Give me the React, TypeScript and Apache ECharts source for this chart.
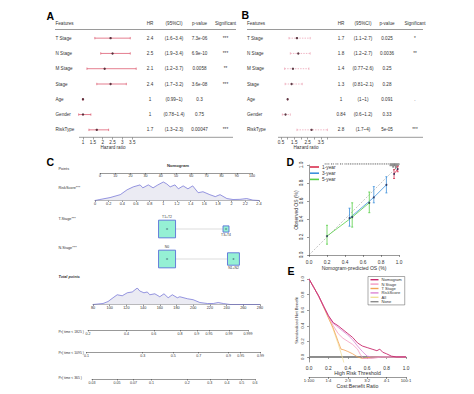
import React, { useEffect, useRef } from "react";
import * as echarts from "echarts";

const FONT = "'Liberation Sans', Arial, Helvetica, sans-serif";
const INK = "#333";

// ---------------- Panel A: univariate Cox ----------------
const featureNames = ["T Stage", "N Stage", "M Stage", "Stage", "Age", "Gender", "RiskType"];
const uniHR = [2.4, 2.5, 2.1, 2.4, 1, 1, 1.7];
const uniLow = [1.6, 1.9, 1.2, 1.7, 0.99, 0.78, 1.3];
const uniHigh = [3.4, 3.4, 3.7, 3.2, 1, 1.4, 2.3];
const uniHRText = ["2.4", "2.5", "2.1", "2.4", "1", "1", "1.7"];
const uniCIText = ["(1.6~3.4)", "(1.9~3.4)", "(1.2~3.7)", "(1.7~3.2)", "(0.99~1)", "(0.78~1.4)", "(1.3~2.3)"];
const uniPText = ["7.3e-06", "6.9e-10", "0.0058", "3.6e-08", "0.3", "0.75", "0.00047"];
const uniSig = ["***", "***", "**", "***", "", "", "***"];
const uniTicks = [1, 1.5, 2, 2.5, 3, 3.5];
const uniTickLabels = [1, 1.5, 2, 2.5, 3, 3.5];

// ---------------- Panel B: multivariate Cox ----------------
const multiHR = [1.7, 1.8, 1.4, 1.3, 1, 0.84, 2.8];
const multiLow = [1.1, 1.2, 0.77, 0.81, 1, 0.6, 1.7];
const multiHigh = [2.7, 2.7, 2.6, 2.1, 1, 1.2, 4];
const multiHRText = ["1.7", "1.8", "1.4", "1.3", "1", "0.84", "2.8"];
const multiCIText = ["(1.1~2.7)", "(1.2~2.7)", "(0.77~2.6)", "(0.81~2.1)", "(1~1)", "(0.6~1.2)", "(1.7~4)"];
const multiPText = ["0.025", "0.0036", "0.25", "0.28", "0.091", "0.33", "5e-05"];
const multiSig = ["*", "**", "", "", ".", "", "***"];
const multiTicks = [0.5, 1, 1.5, 2, 2.5, 3, 3.5, 4];
const multiTickLabels = [0.5, 1.5, 2.5, 3.5];

const tableHeader = ["Features", "HR", "(95%CI)", "p-value", "Significant"];

// ---------------- Panel C: nomogram ----------------
const riskScoreX = [0, 0.07, 0.22, 0.37, 0.47, 0.56, 0.66, 0.7, 0.78, 0.85, 0.92, 1.0, 1.05, 1.1, 1.17, 1.22, 1.29, 1.36, 1.43, 1.51, 1.58, 1.68, 1.76, 1.83, 1.93, 2.02, 2.12, 2.22, 2.31, 2.4];
const riskScoreDens = [0, 0.05, 0.15, 0.3, 0.55, 0.7, 0.8, 0.65, 0.8, 0.65, 0.8, 0.95, 0.85, 0.7, 0.8, 0.6, 0.75, 0.6, 0.75, 0.4, 0.45, 0.3, 0.2, 0.3, 0.1, 0.05, 0.06, 0.1, 0.02, 0];
const totalX = [80, 92, 98, 104, 109, 115, 121, 127, 133, 136, 141, 145, 148, 154, 160, 165, 170, 175, 181, 184, 193, 200, 208, 217, 224, 230, 236, 244, 280];
const totalDens = [0, 0.06, 0.18, 0.41, 0.59, 0.53, 0.71, 0.76, 1.0, 0.82, 0.71, 0.76, 0.59, 0.65, 0.47, 0.65, 0.41, 0.59, 0.41, 0.47, 0.35, 0.29, 0.12, 0.06, 0.06, 0.12, 0.06, 0, 0];
const tStageLevels = ["T1+T2", "T3+T4"];
const tStagePoints = [44.1, 82.9];
const tStageFreq = [0.89, 0.11];
const nStageLevels = ["N0", "N1+N2"];
const nStagePoints = [44.1, 87.8];
const nStageFreq = [0.67, 0.33];
const pr1825 = [0.2, 0.4, 0.6, 0.8, 0.9, 0.95, 0.99, 0.999];
const pr1095 = [0.1, 0.3, 0.5, 0.7, 0.9, 0.95, 0.99];
const pr365 = [0.03, 0.05, 0.07, 0.1, 0.2, 0.3, 0.4, 0.5, 0.6];
const nomoRowLabels = ["Points", "RiskScore***", "T.Stage***", "N.Stage***", "Total points", "Pr( time < 1825 )", "Pr( time < 1095 )", "Pr( time < 365 )"];

// ---------------- Panel D: calibration ----------------
const cal1Pred = [0.945, 0.985];
const cal1Obs = [0.9, 0.955];
const cal1Lo = [0.85, 0.925];
const cal1Hi = [0.95, 0.985];
const cal3Pred = [0.45, 0.72, 0.86];
const cal3Obs = [0.41, 0.64, 0.78];
const cal3Lo = [0.32, 0.58, 0.69];
const cal3Hi = [0.52, 0.76, 0.87];
const cal5Pred = [0.2, 0.48, 0.67];
const cal5Obs = [0.21, 0.42, 0.58];
const cal5Lo = [0.12, 0.31, 0.47];
const cal5Hi = [0.33, 0.58, 0.7];
const rugPred = [0.18, 0.2, 0.22, 0.25, 0.27, 0.3, 0.32, 0.35, 0.37, 0.4, 0.42, 0.44, 0.46, 0.48, 0.5, 0.52, 0.54, 0.56, 0.58, 0.6, 0.62, 0.64, 0.66, 0.68, 0.7, 0.72, 0.74, 0.76, 0.78, 0.8, 0.82, 0.84, 0.86, 0.88, 0.9, 0.91, 0.92, 0.93, 0.94, 0.95, 0.96, 0.97, 0.98, 0.99, 1.0];
const rugCount = [1, 1, 1, 1, 1, 1, 1, 1, 1, 1, 1, 1, 1, 1, 1, 1, 1, 1, 1, 1, 1, 1, 1, 1, 1, 1, 1, 1, 1, 1, 1, 1, 1, 1, 2, 2, 2, 3, 3, 2, 4, 3, 2, 2, 1];
const calTicks = [0, 0.2, 0.4, 0.6, 0.8, 1.0];

// ---------------- Panel E: decision curve ----------------
const dcaNomogram = [[0, 1], [0.05, 0.89], [0.1, 0.78], [0.15, 0.65], [0.2, 0.53], [0.25, 0.44], [0.3, 0.4], [0.35, 0.35], [0.4, 0.3], [0.45, 0.25], [0.5, 0.18], [0.55, 0.14], [0.6, 0.12], [0.65, 0.1], [0.7, 0.08], [0.73, 0.1], [0.76, 0.06], [0.8, 0.04], [0.85, 0.01], [0.9, 0], [1, 0]];
const dcaNStage = [[0, 1], [0.1, 0.78], [0.2, 0.52], [0.25, 0.4], [0.3, 0.3], [0.35, 0.24], [0.4, 0.2], [0.45, 0.16], [0.5, 0.1], [0.53, 0.03], [0.56, -0.02], [0.65, -0.02], [0.7, -0.01], [0.75, 0], [1, 0]];
const dcaTStage = [[0, 1], [0.1, 0.78], [0.2, 0.5], [0.25, 0.37], [0.3, 0.2], [0.33, 0.1], [0.36, 0.09], [0.4, 0.07], [0.45, 0.04], [0.5, 0.0], [0.55, -0.02], [0.6, -0.01], [0.65, 0], [1, 0]];
const dcaRiskScore = [[0, 1], [0.1, 0.78], [0.2, 0.53], [0.25, 0.43], [0.3, 0.38], [0.35, 0.33], [0.4, 0.28], [0.45, 0.22], [0.5, 0.14], [0.55, 0.07], [0.6, 0.01], [0.65, 0], [1, 0]];
const dcaAll = [[0, 1], [0.05, 0.9], [0.1, 0.78], [0.15, 0.66], [0.2, 0.51], [0.25, 0.35], [0.3, 0.17], [0.33, 0.05], [0.35, -0.03], [0.37, -0.12]];
const dcaNone = [[0, 0], [1, 0]];
const dcaNames = ["Nomogram", "N Stage", "T Stage", "RiskScore", "All", "None"];
const thresholdTicks = [0, 0.2, 0.4, 0.6, 0.8, 1.0];
const costBenefit = ["1:100", "1:4", "2:3", "3:2", "4:1", "100:1"];

type Ctx = { grid: any[]; xAxis: any[]; yAxis: any[]; series: any[]; graphic: any[]; legend: any[] };

function addGrid(c: Ctx, g: any, x: any, y: any) {
  const i = c.grid.length;
  c.grid.push({ outerBoundsMode: "none", containLabel: false, ...g });
  c.xAxis.push({ gridIndex: i, ...x });
  c.yAxis.push({ gridIndex: i, ...y });
  return i;
}

function text(c: Ctx, str: string, x: number, y: number, o: any = {}) {
  const al = o.align || "left";
  c.graphic.push({
    type: "text", x, y, silent: true, z: 10,
    style: {
      text: str, fill: INK, fontSize: 4.6, fontFamily: FONT,
      verticalAlign: "middle", textVerticalAlign: "middle",
      ...o, align: al, textAlign: al,
    },
  });
}

function hline(c: Ctx, x1: number, x2: number, y: number, color = "#555", w = 0.6) {
  c.graphic.push({ type: "line", silent: true, shape: { x1, y1: y, x2, y2: y }, style: { stroke: color, lineWidth: w } });
}

const axisLineStyle = { color: "#333", width: 0.5 };
const ROW_TOP = 30.5;
const ROW_H = 107;

function forestPanel(c: Ctx, o: any) {
  const catAxis = (data: string[], align: string) => ({
    type: "category", inverse: true, data,
    axisLine: { show: false }, axisTick: { show: false }, splitLine: { show: false },
    axisLabel: { interval: 0, align, margin: 0, fontSize: 4.6, color: INK, fontFamily: FONT },
  });
  const hiddenX = { type: "value", show: false, min: 0, max: 1 };
  addGrid(c, { left: o.featLeft, top: ROW_TOP, width: 1, height: ROW_H }, hiddenX, catAxis(featureNames, "left"));
  [o.hrText, o.ciText, o.pText, o.sig].forEach((col: string[], k: number) =>
    addGrid(c, { left: o.cols[k], top: ROW_TOP, width: 1, height: ROW_H }, hiddenX, catAxis(col, "center"))
  );
  const f = addGrid(
    c,
    { left: o.fLeft, top: ROW_TOP, width: o.fWidth, height: ROW_H },
    {
      type: "value", min: o.min, max: o.max,
      axisLine: { show: false }, splitLine: { show: false },
      axisTick: { show: true, customValues: o.ticks, length: 2, lineStyle: { color: "#444", width: 0.5 } },
      axisLabel: { customValues: o.tickLabels, fontSize: 4.6, margin: 2.2, color: INK, fontFamily: FONT, formatter: (v: number) => String(v) },
    },
    { type: "category", inverse: true, data: featureNames, show: false }
  );
  const lineStyle: any = { stroke: o.lineColor, lineWidth: 0.7 };
  if (o.dash) lineStyle.lineDash = [1.4, 1.2];
  c.series.push({
    type: "custom", xAxisIndex: f, yAxisIndex: f, clip: false, z: 2,
    encode: { x: [0, 1], y: 2 },
    data: o.lo.map((l: number, i: number) => [l, o.hi[i], i]),
    renderItem: (_p: any, api: any) => {
      const a = api.coord([api.value(0), api.value(2)]);
      const b = api.coord([api.value(1), api.value(2)]);
      const cap = { stroke: o.lineColor, lineWidth: 0.6 };
      return {
        type: "group",
        children: [
          { type: "line", shape: { x1: a[0], y1: a[1], x2: b[0], y2: b[1] }, style: lineStyle },
          { type: "line", shape: { x1: a[0], y1: a[1] - 1.2, x2: a[0], y2: a[1] + 1.2 }, style: cap },
          { type: "line", shape: { x1: b[0], y1: b[1] - 1.2, x2: b[0], y2: b[1] + 1.2 }, style: cap },
        ],
      };
    },
  });
  c.series.push({
    type: "scatter", xAxisIndex: f, yAxisIndex: f, symbol: "circle", symbolSize: 2.4, z: 3,
    itemStyle: { color: "#3b1420" },
    data: o.hr.map((v: number, i: number) => [v, i]),
  });
  text(c, tableHeader[0], o.featLeft, 23);
  tableHeader.slice(1).forEach((h, k) => text(c, h, o.cols[k], 23, { align: "center" }));
  hline(c, o.headLine[0], o.headLine[1], 29.5);
  hline(c, o.botLine[0], o.botLine[1], 137.3);
  text(c, "Hazard ratio", o.nameX, 147, { align: "center" });
}

function densityRow(c: Ctx, left: number, width: number, top: number, height: number, min: number, max: number, interval: number, xs: number[], ds: number[]) {
  const i = addGrid(
    c,
    { left, top, width, height },
    {
      type: "value", min, max, interval, splitLine: { show: false },
      axisLine: { lineStyle: axisLineStyle }, axisTick: { length: 1.5, lineStyle: axisLineStyle },
      axisLabel: { fontSize: 3.8, margin: 1.5, color: INK, fontFamily: FONT },
    },
    { type: "value", min: 0, max: 1, show: false }
  );
  c.series.push({
    type: "line", xAxisIndex: i, yAxisIndex: i, symbol: "none", z: 2,
    data: xs.map((x, k) => [x, ds[k]]),
    lineStyle: { color: "#6a6ad4", width: 0.7 },
    areaStyle: { color: "#ebebf3", opacity: 1 },
  });
}

const PLUS = "path://M-1,-0.18H1V0.18H-1Z M-0.18,-1H0.18V1H-0.18Z";

function boxRow(c: Ctx, top: number, pts: number[], freq: number[], names: string[]) {
  const i = addGrid(
    c,
    { left: 100, top, width: 152, height: 20 },
    { type: "value", min: 0, max: 100, show: false },
    { type: "value", min: -1, max: 1, show: false }
  );
  const maxF = Math.max(...freq);
  c.series.push({
    type: "line", xAxisIndex: i, yAxisIndex: i, symbol: "none", z: 1,
    data: pts.map((p) => [p, 0]),
    lineStyle: { color: "#b8b8b8", width: 0.5 },
  });
  c.series.push({
    type: "scatter", xAxisIndex: i, yAxisIndex: i, symbol: "rect", z: 2,
    itemStyle: { color: "#95f0d4", borderColor: "#5a72d8", borderWidth: 0.9, opacity: 1 },
    data: pts.map((p, k) => {
      const s = 17 * Math.sqrt(freq[k] / maxF);
      return {
        value: [p, 0],
        symbolSize: [s, s * 1.04],
        label: {
          show: true, position: k === 0 ? "top" : "bottom", distance: 0.8,
          formatter: names[k], fontSize: 3.4, color: INK, fontFamily: FONT,
        },
      };
    }),
  });
  c.series.push({
    type: "scatter", xAxisIndex: i, yAxisIndex: i, symbol: PLUS, symbolSize: 2.2, z: 3,
    itemStyle: { color: "#2a2a50" },
    data: pts.map((p) => [p, 0]),
  });
}

const cll = (p: number) => Math.log(-Math.log(1 - p));

function probRow(c: Ctx, left: number, width: number, top: number, probs: number[]) {
  const vals = probs.map(cll);
  addGrid(
    c,
    { left, top, width, height: 1 },
    {
      type: "value", min: vals[0], max: vals[vals.length - 1], splitLine: { show: false },
      axisLine: { lineStyle: axisLineStyle },
      axisTick: { customValues: vals, length: 1.5, lineStyle: axisLineStyle },
      axisLabel: {
        customValues: vals, fontSize: 3.6, margin: 1.5, color: INK, fontFamily: FONT,
        formatter: (v: number) => {
          let best = 0;
          vals.forEach((w, k) => { if (Math.abs(w - v) < Math.abs(vals[best] - v)) best = k; });
          return String(probs[best]);
        },
      },
    },
    { type: "value", show: false }
  );
}

function calGroup(c: Ctx, gi: number, name: string, color: string, pred: number[], obs: number[], lo: number[], hi: number[]) {
  c.series.push({
    name, type: "line", xAxisIndex: gi, yAxisIndex: gi, symbol: "none", color, z: 3,
    data: pred.map((x, k) => [x, obs[k]]),
    lineStyle: { color, width: 0.8 },
  });
  c.series.push({
    name: name + " CI", type: "custom", xAxisIndex: gi, yAxisIndex: gi, clip: false, z: 4,
    encode: { x: 0, y: [1, 2] },
    data: pred.map((x, k) => [x, lo[k], hi[k]]),
    renderItem: (_p: any, api: any) => {
      const a = api.coord([api.value(0), api.value(1)]);
      const b = api.coord([api.value(0), api.value(2)]);
      const st = { stroke: color, lineWidth: 0.8 };
      return {
        type: "group",
        children: [
          { type: "line", shape: { x1: a[0], y1: a[1], x2: b[0], y2: b[1] }, style: st },
          { type: "line", shape: { x1: a[0] - 1, y1: a[1], x2: a[0] + 1, y2: a[1] }, style: st },
          { type: "line", shape: { x1: b[0] - 1, y1: b[1], x2: b[0] + 1, y2: b[1] }, style: st },
        ],
      };
    },
  });
  c.series.push({
    name: name + " pts", type: "scatter", xAxisIndex: gi, yAxisIndex: gi, symbol: "circle", symbolSize: 2, z: 5,
    itemStyle: { color: "#1d2450" },
    data: pred.map((x, k) => [x, obs[k]]),
  });
}

function buildOption() {
  const c: Ctx = { grid: [], xAxis: [], yAxis: [], series: [], graphic: [], legend: [] };

  const letter = (s: string, x: number, y: number) => text(c, s, x, y, { fontSize: 10.5, fontWeight: "bold", fill: "#000" });
  letter("A", 46.5, 16);
  letter("B", 241.5, 15);
  letter("C", 46.5, 162);
  letter("D", 286.5, 162);
  letter("E", 287.5, 271);

  forestPanel(c, {
    featLeft: 55.5, cols: [150, 174, 199.5, 225.5],
    fLeft: 73.15, fWidth: 68.95, min: 0.5, max: 4,
    ticks: uniTicks, tickLabels: uniTickLabels,
    hr: uniHR, lo: uniLow, hi: uniHigh,
    hrText: uniHRText, ciText: uniCIText, pText: uniPText, sig: uniSig,
    lineColor: "#d9465e", dash: false,
    headLine: [55, 236], botLine: [79, 233], nameX: 113,
  });
  forestPanel(c, {
    featLeft: 247, cols: [341, 363, 387, 415],
    fLeft: 281, fWidth: 46.5, min: 0.5, max: 4,
    ticks: multiTicks, tickLabels: multiTickLabels,
    hr: multiHR, lo: multiLow, hi: multiHigh,
    hrText: multiHRText, ciText: multiCIText, pText: multiPText, sig: multiSig,
    lineColor: "#e995aa", dash: true,
    headLine: [247, 423], botLine: [278, 423], nameX: 306,
  });

  text(c, "Nomogram", 178, 165, { align: "center", fontSize: 4.2, fontWeight: "bold" });
  addGrid(
    c,
    { left: 100, top: 172, width: 152, height: 1 },
    {
      type: "value", min: 0, max: 100, interval: 10, splitLine: { show: false },
      axisLine: { lineStyle: axisLineStyle }, axisTick: { length: 1.5, lineStyle: axisLineStyle },
      axisLabel: { fontSize: 3.6, margin: 1.3, color: INK, fontFamily: FONT },
    },
    { type: "value", show: false }
  );
  densityRow(c, 95, 164, 181, 19.5, 0, 2.4, 0.2, riskScoreX, riskScoreDens);
  boxRow(c, 219, tStagePoints, tStageFreq, tStageLevels);
  boxRow(c, 249, nStagePoints, nStageFreq, nStageLevels);
  densityRow(c, 93, 167, 288, 16.5, 80, 280, 20, totalX, totalDens);
  probRow(c, 88, 160, 329, pr1825);
  probRow(c, 86.5, 174, 351, pr1095);
  probRow(c, 92, 163, 378, pr365);
  const rowY = [169, 188, 219, 248, 276.5, 331.5, 352.5, 378];
  nomoRowLabels.forEach((s, k) =>
    text(c, s, 58.5, rowY[k], { fontSize: k >= 5 ? 3.4 : 3.8, fontStyle: k === 4 ? "italic" : "normal", fontWeight: k === 4 ? "bold" : "normal" })
  );

  const lab = { fontSize: 4.8, color: INK, fontFamily: FONT };
  const d = addGrid(
    c,
    { left: 309, top: 165, width: 90, height: 90 },
    {
      type: "value", min: 0, max: 1, offset: 3, splitLine: { show: false },
      axisLine: { lineStyle: axisLineStyle },
      axisTick: { customValues: calTicks, length: 2, lineStyle: axisLineStyle },
      axisLabel: { ...lab, customValues: calTicks, margin: 1.8, formatter: (v: number) => v.toFixed(1) },
      name: "Nomogram-predicted OS (%)", nameLocation: "middle", nameGap: 7.5, nameMoveOverlap: false,
      nameTextStyle: { fontSize: 5, color: INK, fontFamily: FONT },
    },
    {
      type: "value", min: 0, max: 1, offset: 3, splitLine: { show: false },
      axisLine: { lineStyle: axisLineStyle },
      axisTick: { customValues: calTicks, length: 2, lineStyle: axisLineStyle },
      axisLabel: { ...lab, customValues: calTicks, margin: 1.8, rotate: 90, formatter: (v: number) => v.toFixed(1) },
      name: "Observed OS (%)", nameLocation: "middle", nameGap: 8, nameMoveOverlap: false,
      nameTextStyle: { fontSize: 5, color: INK, fontFamily: FONT },
    }
  );
  c.series.push({
    name: "ideal", type: "line", xAxisIndex: d, yAxisIndex: d, symbol: "none", clip: false, z: 1,
    data: [[0, 0], [1.08, 1.08]],
    lineStyle: { color: "#888", width: 0.5, type: [2, 1.5] },
  });
  c.series.push({
    name: "rug", type: "custom", xAxisIndex: d, yAxisIndex: d, clip: false, z: 2,
    encode: { x: 0, y: 1 },
    data: rugPred.map((x, k) => [x, rugCount[k]]),
    renderItem: (_p: any, api: any) => {
      const t = api.coord([api.value(0), 1.02]);
      const h = api.value(1) * 1.5;
      return { type: "line", shape: { x1: t[0], y1: t[1], x2: t[0], y2: t[1] + h }, style: { stroke: "#222", lineWidth: 0.5 } };
    },
  });
  calGroup(c, d, "1-year", "#d9304f", cal1Pred, cal1Obs, cal1Lo, cal1Hi);
  calGroup(c, d, "3-year", "#3d90dc", cal3Pred, cal3Obs, cal3Lo, cal3Hi);
  calGroup(c, d, "5-year", "#58cf48", cal5Pred, cal5Obs, cal5Lo, cal5Hi);
  c.legend.push({
    data: ["1-year", "3-year", "5-year"], left: 310, top: 164.5, orient: "vertical",
    icon: "rect", itemWidth: 9, itemHeight: 1.6, itemGap: 1.2, selectedMode: false, padding: 0,
    textStyle: { fontSize: 4.8, color: INK, fontFamily: FONT, padding: [0, 0, 0, -2] },
  });

  const e = addGrid(
    c,
    { left: 309, top: 279, width: 97, height: 83 },
    {
      type: "value", min: 0, max: 1, offset: 2, splitLine: { show: false },
      axisLine: { lineStyle: axisLineStyle },
      axisTick: { customValues: thresholdTicks, length: 2, lineStyle: axisLineStyle },
      axisLabel: { ...lab, customValues: thresholdTicks, margin: 1.5, formatter: (v: number) => v.toFixed(1) },
      name: "High Risk Threshold", nameLocation: "middle", nameGap: 6.3, nameMoveOverlap: false,
      nameTextStyle: { fontSize: 5.2, color: INK, fontFamily: FONT },
    },
    {
      type: "value", min: -0.065, max: 1, offset: 3, splitLine: { show: false },
      axisLine: { lineStyle: axisLineStyle },
      axisTick: { customValues: thresholdTicks, length: 2, lineStyle: axisLineStyle },
      axisLabel: { ...lab, fontSize: 4.4, customValues: thresholdTicks, margin: 1.6, rotate: 90, formatter: (v: number) => v.toFixed(1) },
      name: "Standardized Net Benefit", nameLocation: "middle", nameGap: 7.5, nameMoveOverlap: false,
      nameTextStyle: { fontSize: 4.2, color: INK, fontFamily: FONT },
    }
  );
  c.xAxis.push({
    gridIndex: e, type: "value", position: "bottom", offset: 15, min: 0, max: 1, splitLine: { show: false },
    axisLine: { lineStyle: axisLineStyle },
    axisTick: { customValues: thresholdTicks, length: 2, lineStyle: axisLineStyle },
    axisLabel: {
      ...lab, fontSize: 4.2, customValues: thresholdTicks, margin: 1.5,
      formatter: (v: number) => costBenefit[Math.round(v / 0.2)],
    },
    name: "Cost:Benefit Ratio", nameLocation: "middle", nameGap: 6.3, nameMoveOverlap: false,
    nameTextStyle: { fontSize: 5.2, color: INK, fontFamily: FONT },
  });
  const dcaData = [dcaNomogram, dcaNStage, dcaTStage, dcaRiskScore, dcaAll, dcaNone];
  const dcaColors = ["#c8286c", "#f49ac2", "#f2a255", "#dc86d4", "#f1e09a", "#8c8c8c"];
  const dcaWidths = [0.9, 0.8, 0.8, 0.8, 0.8, 1.8];
  const order = [5, 4, 2, 1, 3, 0];
  order.forEach((k) => {
    c.series.push({
      name: dcaNames[k], type: "line", xAxisIndex: e, yAxisIndex: e, symbol: "none", color: dcaColors[k], z: 2,
      data: dcaData[k], lineStyle: { color: dcaColors[k], width: dcaWidths[k] },
    });
  });
  c.legend.push({
    data: dcaNames, left: 368, top: 276.5, orient: "vertical",
    icon: "rect", itemWidth: 8, itemHeight: 1.4, itemGap: 0.4, selectedMode: false,
    borderColor: "#555", borderWidth: 0.5, padding: [1.2, 3, 1.2, 2.5], backgroundColor: "#fff",
    textStyle: { fontSize: 4.1, color: INK, fontFamily: FONT, padding: [0, 0, 0, -2] },
  });

  return {
    animation: false,
    backgroundColor: "#fff",
    textStyle: { fontFamily: FONT },
    grid: c.grid,
    xAxis: c.xAxis,
    yAxis: c.yAxis,
    series: c.series,
    legend: c.legend,
    graphic: c.graphic,
    tooltip: { show: false },
  };
}

export default function App() {
  const ref = useRef<HTMLDivElement>(null);
  useEffect(() => {
    document.body.style.margin = "0";
    document.body.style.padding = "0";
    if (!ref.current) return;
    const chart = echarts.init(ref.current, null, { renderer: "svg", width: 474, height: 394 });
    chart.setOption(buildOption() as any);
    return () => chart.dispose();
  }, []);
  return <div ref={ref} style={{ position: "absolute", left: 0, top: 0, width: 474, height: 394, background: "#fff" }} />;
}
